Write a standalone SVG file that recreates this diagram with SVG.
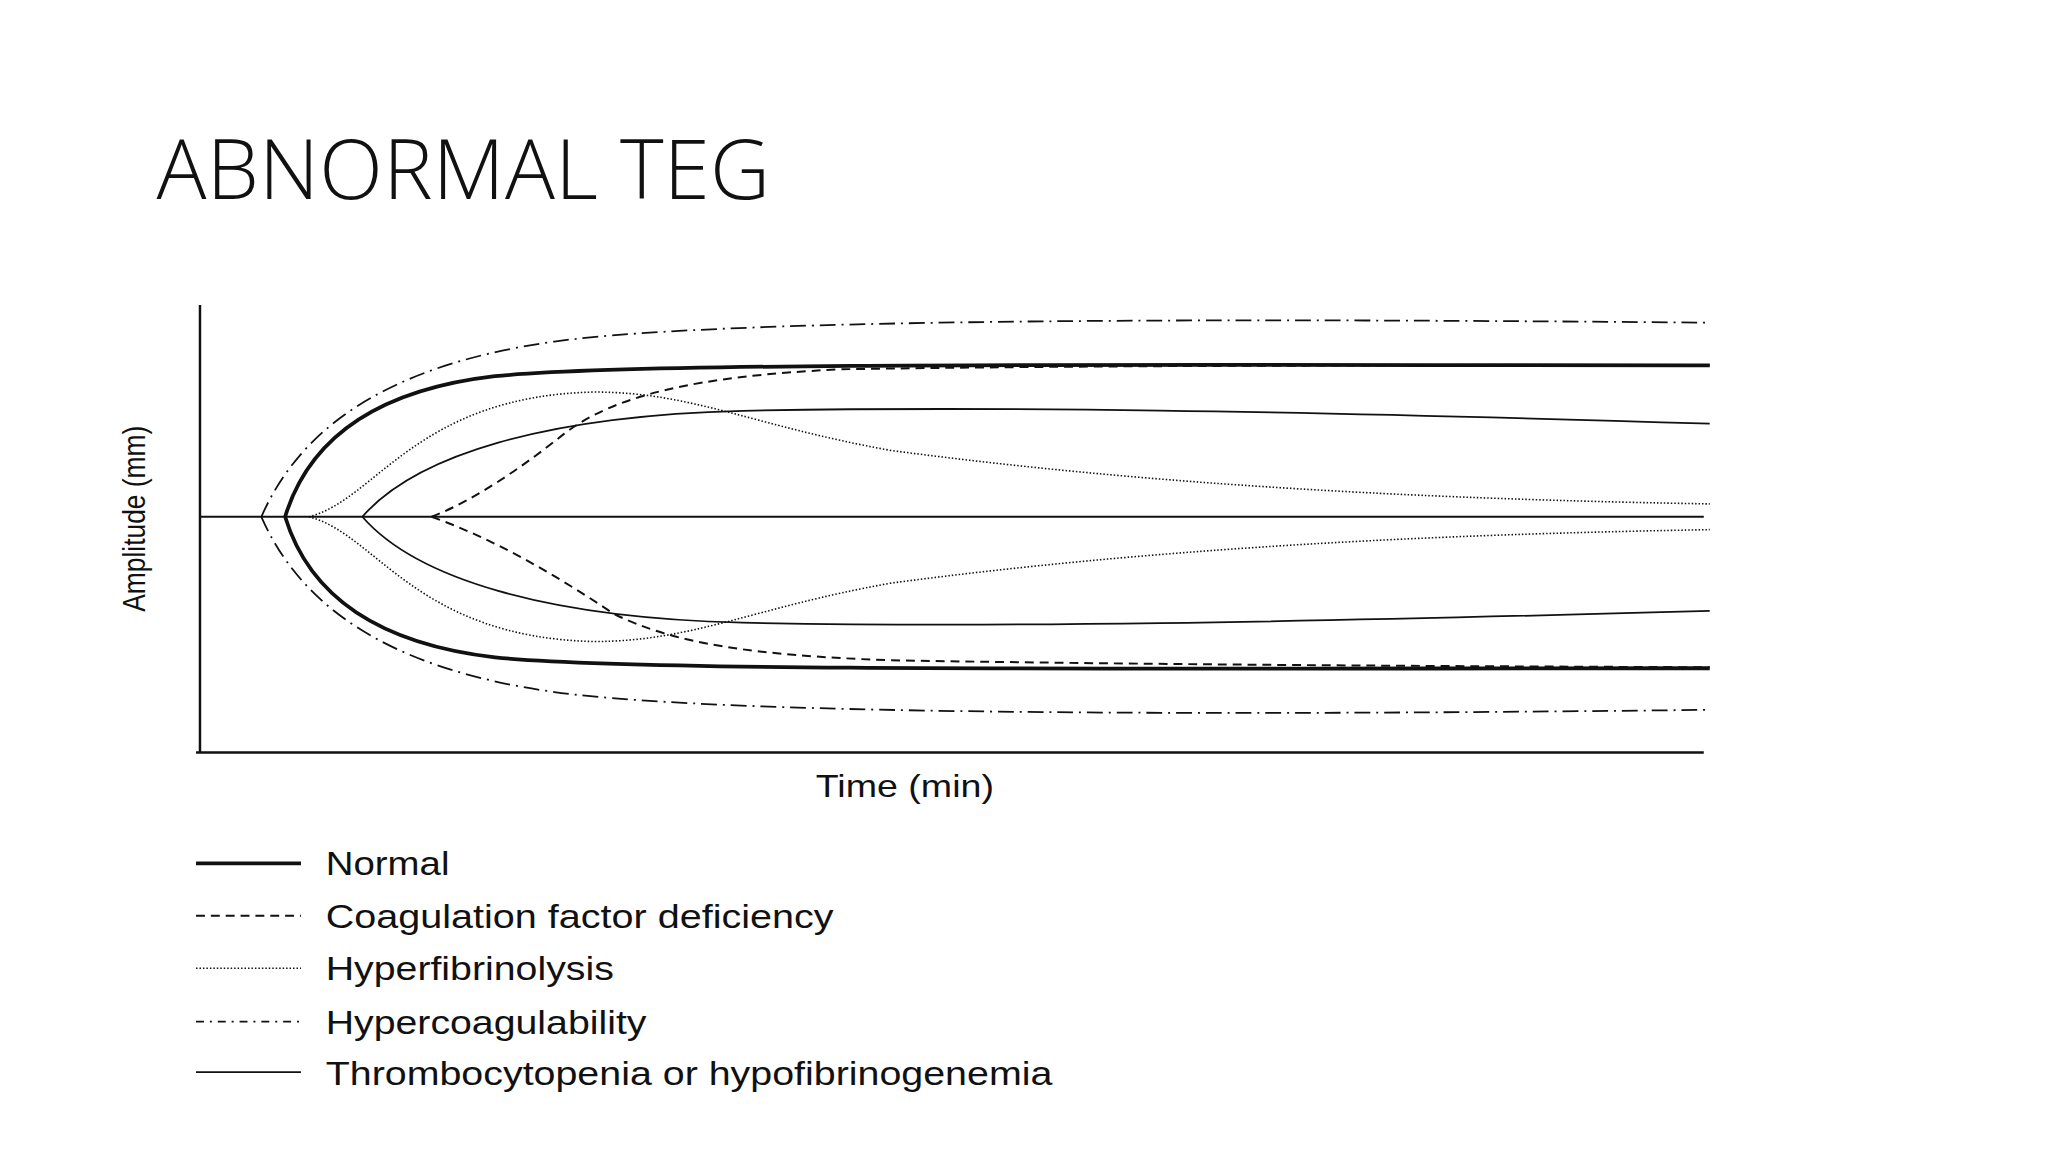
<svg xmlns="http://www.w3.org/2000/svg" width="2048" height="1152" viewBox="0 0 2048 1152">
<style>
.c{fill:none;stroke:#111}
.n{stroke-width:3.8}
.t{stroke-width:1.8}
.d{stroke-width:2;stroke-dasharray:9 6}
.f{stroke-width:1.6;stroke-dasharray:1.5 2}
.h{stroke-width:1.8;stroke-dasharray:16 6 2 6}
text{font-family:"Liberation Sans",Arial,sans-serif;fill:#111}
</style>
<rect width="2048" height="1152" fill="#fff"/>
<g transform="scale(0.99)">
<text x="158" y="201" style="font-family:'Open Sans','Noto Sans',sans-serif;font-weight:300" font-size="84" textLength="620" fill="#000">ABNORMAL TEG</text>
<g id="axes" class="c" stroke-width="2.5">
<path d="M202 308 V760 M198 760 H1721"/>
<path d="M202 522 H1721" stroke-width="2"/>
</g>
<text x="914" y="805" font-size="31" text-anchor="middle" textLength="180" lengthAdjust="spacingAndGlyphs">Time (min)</text>
<text transform="translate(146 524) rotate(-90)" font-size="31" text-anchor="middle" textLength="188" lengthAdjust="spacingAndGlyphs">Amplitude (mm)</text>
<g id="curves">
<path class="c h" d="M264 522 C300 440,380 370,560 345 C740 320,1300 322,1727 326"/>
<path class="c h" d="M264 522 C300 604,380 674,560 699 C740 724,1300 722,1727 717"/>
<path class="c n" d="M288 522 C310 450,370 395,500 380 C650 365,1200 369,1727 369"/>
<path class="c n" d="M288 522 C310 594,370 649,500 664 C650 679,1200 675,1727 675"/>
<path class="c f" d="M312 522 C380 505,420 400,600 396 C700 396,760 430,900 455 C1200 495,1500 505,1727 509"/>
<path class="c f" d="M312 522 C380 539,420 644,600 648 C700 648,760 614,900 589 C1200 549,1500 539,1727 535"/>
<path class="c t" d="M366 522 C420 460,550 420,750 415 C1000 410,1300 415,1727 428"/>
<path class="c t" d="M366 522 C420 584,550 624,750 629 C1000 634,1300 629,1727 617"/>
<path class="c d" d="M436 522 C480 505,530 470,570 438 C620 400,700 380,850 373 C1100 369,1400 369,1727 369"/>
<path class="c d" d="M436 522 C500 545,560 580,620 620 C680 650,760 662,900 667 C1200 672,1500 673,1727 674"/>
</g>
<g id="legend">
<path class="c n" d="M198 872 H304"/>
<path class="c d" d="M198 925 H304"/>
<path class="c f" d="M198 978 H304"/>
<path class="c h" d="M198 1032 H304" style="stroke-dasharray:8 6 2 6"/>
<path class="c t" d="M198 1083 H304"/>
<text x="329" y="884" font-size="34" textLength="125" lengthAdjust="spacingAndGlyphs">Normal</text>
<text x="329" y="937" font-size="34" textLength="513" lengthAdjust="spacingAndGlyphs">Coagulation factor deficiency</text>
<text x="329" y="990" font-size="34" textLength="291" lengthAdjust="spacingAndGlyphs">Hyperfibrinolysis</text>
<text x="329" y="1044" font-size="34" textLength="324" lengthAdjust="spacingAndGlyphs">Hypercoagulability</text>
<text x="329" y="1096" font-size="34" textLength="734" lengthAdjust="spacingAndGlyphs">Thrombocytopenia or hypofibrinogenemia</text>
</g>
</g>
</svg>
